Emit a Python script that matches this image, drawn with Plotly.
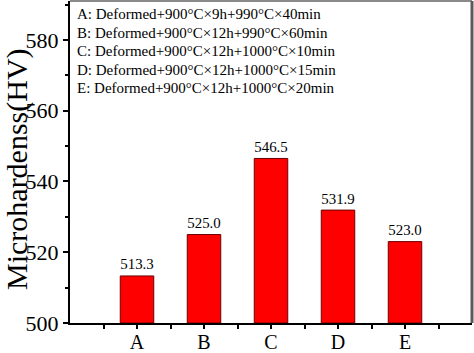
import plotly.graph_objects as go

categories = ["A", "B", "C", "D", "E"]
hardness = [513.3, 525.0, 546.5, 531.9, 523.0]
bar_labels = ["513.3", "525.0", "546.5", "531.9", "523.0"]
legend_lines = [
    "A: Deformed+900°C×9h+990°C×40min",
    "B: Deformed+900°C×12h+990°C×60min",
    "C: Deformed+900°C×12h+1000°C×10min",
    "D: Deformed+900°C×12h+1000°C×15min",
    "E: Deformed+900°C×12h+1000°C×20min",
]
y_ticks = [500, 520, 540, 560, 580]
y_title = "Microhardenss(HV)"

FONT = "Liberation Serif, Times New Roman, serif"
xpos = list(range(1, len(categories) + 1))

fig = go.Figure()
fig.add_trace(go.Bar(
    x=xpos, y=[v - 500 for v in hardness], base=500,
    width=0.5,
    marker=dict(color="#ff0000", line=dict(color="#6a0000", width=1)),
    text=bar_labels, textposition="outside", cliponaxis=False,
    textfont=dict(family=FONT, size=17, color="black"),
    hoverinfo="skip",
))

for i, line in enumerate(legend_lines):
    fig.add_annotation(
        x=0, xref="paper", xanchor="left", xshift=5,
        y=1, yref="paper", yanchor="middle", yshift=-13 - 18.6 * i,
        text=line, showarrow=False,
        font=dict(family=FONT, size=15, color="black"),
    )

# y-axis title
fig.add_annotation(
    x=0, xref="paper", xanchor="center", xshift=-53,
    y=0.5, yref="paper", yanchor="middle", yshift=-7,
    text=y_title, textangle=-90, showarrow=False,
    font=dict(family=FONT, size=30, color="black"),
)

fig.update_layout(
    width=474, height=353,
    margin=dict(l=70, r=2, t=1, b=30),
    paper_bgcolor="white", plot_bgcolor="white",
    showlegend=False,
    font=dict(family=FONT, color="black"),
)
fig.update_xaxes(
    range=[0, 6], tickvals=xpos, ticktext=categories,
    ticks="",
    minor=dict(tickvals=[0.5, 1, 1.5, 2, 2.5, 3, 3.5, 4, 4.5, 5, 5.5], ticks="outside",
               ticklen=4, tickwidth=2, tickcolor="black"),
    showline=True, linecolor="black", linewidth=2,
    mirror=False, showgrid=False, zeroline=False, automargin=False,
    tickfont=dict(family=FONT, size=20, color="black"),
)
fig.update_yaxes(
    range=[500, 591], tickvals=y_ticks,
    ticks="outside", ticklen=5, tickwidth=2, tickcolor="black",
    minor=dict(dtick=10, ticks="outside", ticklen=3, tickwidth=2, tickcolor="black"),
    showline=True, linecolor="black", linewidth=2,
    showgrid=False, zeroline=False, automargin=False,
    tickfont=dict(family=FONT, size=22, color="black"),
)
# gray frame on top and right
fig.add_shape(type="line", xref="paper", yref="paper", x0=0, x1=1, y0=1, y1=1,
              line=dict(color="#8a8a8a", width=2))
fig.add_shape(type="line", xref="paper", yref="paper", x0=1, x1=1, y0=0, y1=1,
              line=dict(color="#5a5a5a", width=3))

fig.write_html("out.html")
